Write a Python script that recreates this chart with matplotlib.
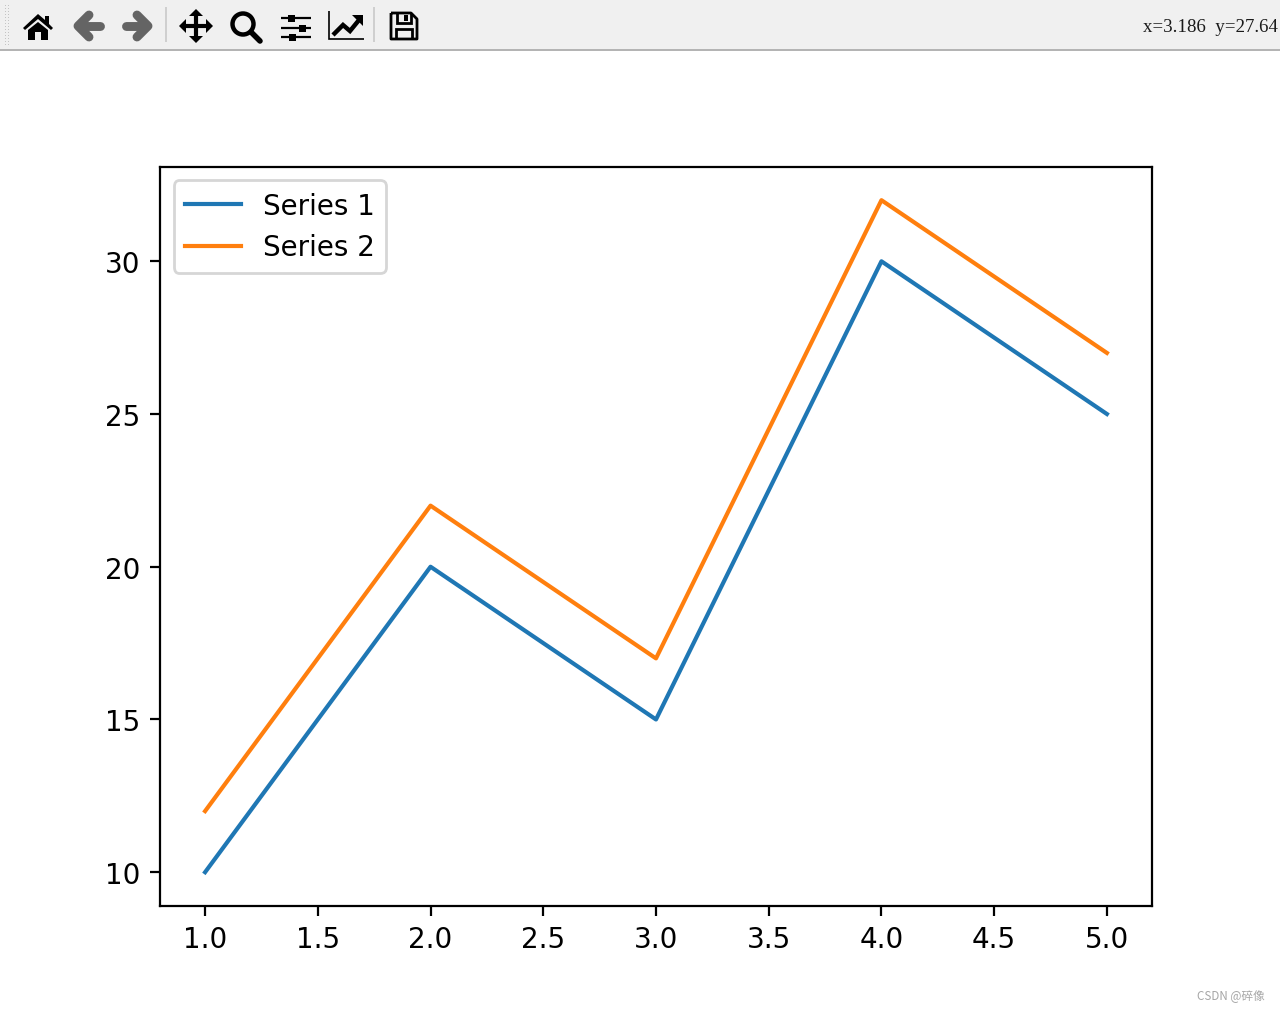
import matplotlib
matplotlib.use('Agg')
from matplotlib import pyplot as plt
from matplotlib.patches import Polygon, Rectangle, Circle

plt.rcParams['font.family'] = ['DejaVu Sans', 'Noto Sans CJK SC']

# Chart data
x_values = [1, 2, 3, 4, 5]
series_1 = [10, 20, 15, 30, 25]
series_2 = [12, 22, 17, 32, 27]
series_names = ['Series 1', 'Series 2']
coord_text = 'x=3.186  y=27.64'
watermark = 'CSDN @碎像'

# 1280x1012 screenshot: a 1280x960 canvas under a 52 px toolbar
fig = plt.figure(figsize=(6.4, 5.06), dpi=200)
ax = fig.add_axes([0.125, 105.2 / 1012, 0.775, 739.2 / 1012])
ax.plot(x_values, series_1, label=series_names[0])
ax.plot(x_values, series_2, label=series_names[1])
ax.legend(loc='upper left')

# Overlay in pixel coordinates for the toolbar
ui = fig.add_axes([0, 0, 1, 1], zorder=5)
ui.set_xlim(0, 1280)
ui.set_ylim(1012, 0)
ui.axis('off')
ui.patch.set_alpha(0)

ui.add_patch(Rectangle((0, 1), 1280, 48.5, fc='#f0f0f0', ec='none'))
ui.add_patch(Rectangle((0, 49.5), 1280, 2, fc='#b4b4b4', ec='none'))

# grip dots and separators
for gx in (5, 8):
    for gy in range(6, 46, 3):
        ui.add_patch(Rectangle((gx, gy), 1.2, 1.2, fc='#c4c4c4', ec='none'))
for sx in (166, 374):
    ui.add_patch(Rectangle((sx - 0.7, 8), 1.4, 35, fc='#cfcfcf', ec='none'))


def poly(pts, color='black'):
    ui.add_patch(Polygon(pts, closed=True, fc=color, ec='none'))


def line(pts, lw=1.0, color='black', cap='butt', join='miter'):
    xs, ys = zip(*pts)
    ui.plot(xs, ys, color=color, lw=lw, solid_capstyle=cap, solid_joinstyle=join)


# home
poly([(38, 15), (45, 21), (45, 17), (49, 17), (49, 25), (53, 29), (51, 31), (38, 20), (25, 31), (23, 29)])
poly([(38, 23), (48, 31), (48, 41), (41, 41), (41, 33), (35, 33), (35, 41), (28, 41), (28, 31)])

# back / forward arrows
grey = '#646464'
line([(89, 16), (78, 27), (89, 38)], lw=3.2, color=grey, cap='round', join='round')
line([(80, 27), (100, 27)], lw=3.2, color=grey, cap='round')
line([(137, 16), (148, 27), (137, 38)], lw=3.2, color=grey, cap='round', join='round')
line([(126, 27), (146, 27)], lw=3.2, color=grey, cap='round')

# move
line([(183, 27), (209, 27)], lw=1.5)
line([(196, 14), (196, 40)], lw=1.5)
poly([(196, 10), (203, 17), (189, 17)])
poly([(196, 44), (203, 37), (189, 37)])
poly([(179, 27), (186, 20), (186, 34)])
poly([(213, 27), (206, 20), (206, 34)])

# zoom
ui.add_patch(Circle((243, 25), 10.5, fc='none', ec='black', lw=1.6))
line([(251, 33), (260, 42)], lw=2.0, cap='round')

# sliders
for sy, kx in ((19, 291), (29, 302), (38, 292)):
    line([(281, sy), (311, sy)], lw=0.8)
    ui.add_patch(Rectangle((kx - 3.5, sy - 3.5), 7, 7, fc='black', ec='none'))

# chart
line([(329, 12), (329, 40), (364, 40)], lw=0.6)
line([(333, 36), (343, 26), (350, 32), (359, 21)], lw=1.6)
poly([(352, 16), (363, 16), (363, 27)])

# save
line([(391, 14), (411, 14), (417, 20), (417, 40), (391, 40), (391, 14)], lw=1.0, join='round')
line([(397, 14), (397, 24), (411, 24), (411, 14)], lw=1.0)
ui.add_patch(Rectangle((404, 16), 4, 6, fc='black', ec='none'))
line([(396, 40), (396, 30), (412, 30), (412, 40)], lw=1.0)

ui.text(1278, 27, coord_text, family='Liberation Serif', fontsize=6.8, color='#1a1a1a',
        ha='right', va='center')
ui.text(1265, 997, watermark, fontsize=4.2, color='#a6a6a6', ha='right', va='center',
        family=['Noto Sans CJK SC', 'DejaVu Sans'])

fig.savefig('out.png', dpi=200)
